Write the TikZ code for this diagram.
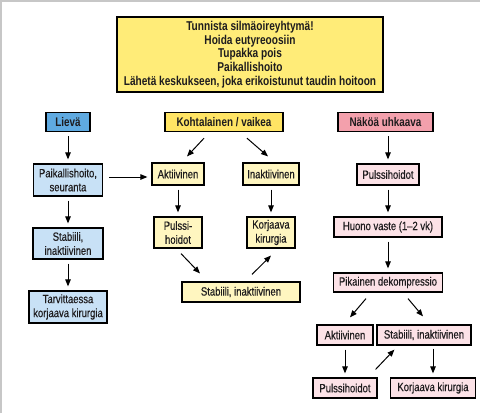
\documentclass[tikz,border=0pt]{standalone}
\usepackage{fontspec}
\setmainfont{Liberation Sans}[FakeStretch=0.79]
\newfontfamily\boxfont{Liberation Sans}[FakeStretch=0.79, FakeBold=0.4]
\usetikzlibrary{arrows.meta,calc}
\definecolor{topyel}{RGB}{255,236,120}
\definecolor{headyel}{RGB}{255,228,100}
\definecolor{subyel}{RGB}{255,246,192}
\definecolor{headblue}{RGB}{95,170,225}
\definecolor{subblue}{RGB}{200,225,246}
\definecolor{headpink}{RGB}{243,160,172}
\definecolor{subpink}{RGB}{252,226,231}
\definecolor{txt}{RGB}{30,28,30}
\begin{document}
\begin{tikzpicture}[x=1pt,y=-1pt,
  box/.style={draw=black, line width=1.2pt, inner sep=0pt, align=center, text=txt,
     font=\boxfont\fontsize{12}{14}\selectfont},
  head/.style={box, line width=1.4pt, font=\bfseries\fontsize{12.5}{14}\selectfont},
  topbox/.style={box, line width=1.8pt, fill=topyel, font=\bfseries\fontsize{12.8}{13.6}\selectfont},
  yb/.style={box, fill=subyel},
  bb/.style={box, fill=subblue},
  pb/.style={box, fill=subpink},
  arr/.style={-{Triangle[length=7pt,width=5.5pt]}, line width=1pt, black},
]
\useasboundingbox (0,0) rectangle (480,413);
\fill[white] (0,0) rectangle (480,413);
\draw[black!22, line width=1.5pt] (0.75,413) -- (0.75,0.75) -- (480,0.75);

\node[topbox, minimum width=266pt, minimum height=75pt] (top) at (250,54.5)
  {Tunnista silmäoireyhtymä!\\Hoida eutyreoosiin\\Tupakka pois\\Paikallishoito\\Lähetä keskukseen, joka erikoistunut taudin hoitoon};

\node[head, fill=headblue, minimum width=44pt, minimum height=19pt] (lieva) at (68,122) {Lievä};
\node[head, fill=headyel, minimum width=118pt, minimum height=19pt] (koht) at (224,122) {Kohtalainen / vaikea};
\node[head, fill=headpink, minimum width=95pt, minimum height=19pt] (nakoa) at (385.5,122) {Näköä uhkaava};

\node[bb, minimum width=69pt, minimum height=32pt] (paik) at (68,180) {Paikallishoito,\\seuranta};
\node[bb, minimum width=70pt, minimum height=31pt] (stab1) at (68,243.5) {Stabiili,\\inaktiivinen};
\node[bb, minimum width=78pt, minimum height=32pt] (tarv) at (68,307) {Tarvittaessa\\korjaava kirurgia};

\node[yb, minimum width=52pt, minimum height=22pt] (akt) at (178,174) {Aktiivinen};
\node[yb, minimum width=56pt, minimum height=22pt] (inakt) at (271,174) {Inaktiivinen};
\node[yb, minimum width=48pt, minimum height=31pt] (puls) at (178,232.5) {Pulssi-\\hoidot};
\node[yb, minimum width=48pt, minimum height=31pt] (korj) at (271,232.5) {Korjaava\\kirurgia};
\node[yb, minimum width=118pt, minimum height=20pt] (stab2) at (241,292) {Stabiili, inaktiivinen};

\node[pb, minimum width=62pt, minimum height=21pt] (pulsa) at (388,174.5) {Pulssihoidot};
\node[pb, minimum width=108pt, minimum height=20pt] (huono) at (388,227) {Huono vaste (1–2 vk)};
\node[pb, minimum width=109pt, minimum height=19pt] (pik) at (388,282.5) {Pikainen dekompressio};
\node[pb, minimum width=56pt, minimum height=20pt] (aktp) at (345,335) {Aktiivinen};
\node[pb, minimum width=94pt, minimum height=20pt] (stabp) at (424,335) {Stabiili, inaktiivinen};
\node[pb, minimum width=64pt, minimum height=20pt] (pulsp) at (345,388) {Pulssihoidot};
\node[pb, minimum width=85pt, minimum height=20pt] (korjp) at (433,388) {Korjaava kirurgia};

% left column
\draw[arr, shorten <=4pt, shorten >=4pt] (lieva) -- (paik);
\draw[arr, shorten <=4pt, shorten >=4pt] (paik) -- (stab1);
\draw[arr, shorten <=4pt, shorten >=4pt] (stab1) -- (tarv);
\draw[arr] ($(paik.east)+(6,-3)$) -- ($(akt.west)+(-4,3)$);

% middle column
\draw[arr] ($(koht.south)+(-20,6)$) -- ($(akt.north)+(9,-6)$);
\draw[arr] ($(koht.south)+(23,6)$) -- ($(inakt.north)+(-3,-6)$);
\draw[arr, shorten <=4pt, shorten >=4pt] (akt) -- (puls);
\draw[arr, shorten <=4pt, shorten >=4pt] (inakt) -- (korj);
\draw[arr] ($(puls.south)+(3,5)$) -- ($(stab2.north)+(-41,-8)$);
\draw[arr] ($(stab2.north)+(11,-7)$) -- ($(korj.south)+(0,7)$);

% right column
\draw[arr, shorten <=4pt, shorten >=4pt] (nakoa.south -| pulsa) -- (pulsa.north);
\draw[arr, shorten <=4pt, shorten >=4pt] (pulsa) -- (huono);
\draw[arr, shorten <=4pt, shorten >=4pt] (huono) -- (pik);
\draw[arr] ($(pik.south)+(-22,6)$) -- ($(aktp.north)+(5,-7)$);
\draw[arr] ($(pik.south)+(20,6)$) -- ($(stabp.north)+(-1,-8)$);
\draw[arr, shorten <=4pt, shorten >=4pt] (aktp) -- (pulsp);
\draw[arr] ($(pulsp.north east)+(-2,-8)$) -- ($(stabp.south west)+(18,4)$);
\draw[arr, shorten <=3pt, shorten >=4pt] (stabp.south -| korjp) -- (korjp.north);
\end{tikzpicture}
\end{document}
